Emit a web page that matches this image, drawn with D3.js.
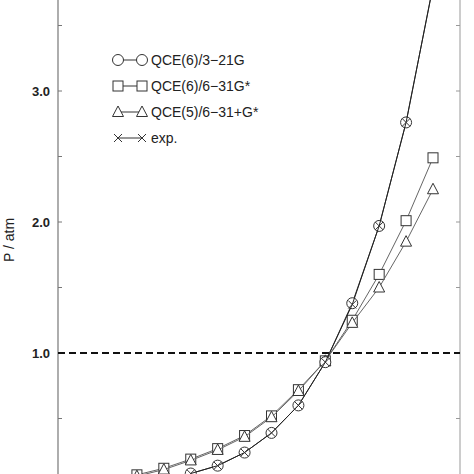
<!DOCTYPE html>
<html>
<head>
<meta charset="utf-8">
<script src="https://cdn.jsdelivr.net/npm/d3@7"></script>
<style>
body { margin: 0; background: #fff; }
text { font-family: "Liberation Sans", Arial, sans-serif; }
</style>
</head>
<body>
<div id="chart"></div>
<script>
// x index of each point (unlabelled in the figure)
const xIdx = [0, 1, 2, 3, 4, 5, 6, 7, 8, 9, 10, 11, 12];
const p321 = [null, null, null, 0.08, 0.14, 0.24, 0.39, 0.60, 0.93, 1.38, 1.97, 2.76, 3.80];
const p631 = [0.01, 0.07, 0.12, 0.19, 0.27, 0.37, 0.52, 0.72, 0.94, 1.25, 1.60, 2.01, 2.49];
const p631p = [0.0, 0.06, 0.11, 0.18, 0.26, 0.36, 0.51, 0.71, 0.94, 1.23, 1.50, 1.85, 2.25];
const pExp = [null, null, null, 0.08, 0.14, 0.24, 0.39, 0.60, 0.93, 1.37, 1.97, 2.76, 3.80];
const yTicks = [1.0, 2.0, 3.0];
const yMinor = [0.5, 1.5, 2.5, 3.5];
const legendLabels = ["QCE(6)/3\u221221G", "QCE(6)/6\u221231G*", "QCE(5)/6\u221231+G*", "exp."];

const W = 474, H = 474;
const left = 58, right = 460;

const svg = d3.select("#chart").append("svg")
    .attr("width", W).attr("height", H);

const x = d3.scaleLinear().domain([0, 12]).range([110, 433]);
const y = d3.scaleLinear().domain([0, 1]).range([484, 353]);

// frame
svg.append("line").attr("x1", left).attr("x2", left).attr("y1", 0).attr("y2", H)
    .attr("stroke", "#777").attr("stroke-width", 1.2);
svg.append("line").attr("x1", right).attr("x2", right).attr("y1", 0).attr("y2", H)
    .attr("stroke", "#999").attr("stroke-width", 1);

// y axis
const yAxis = d3.axisLeft(y).tickValues(yTicks).tickSize(0).tickFormat(d3.format(".1f")).tickPadding(8);
svg.append("g").attr("transform", `translate(${left},0)`).call(yAxis)
    .call(g => g.select(".domain").remove())
    .selectAll("text").style("font-size", "13px").style("font-weight", "bold").attr("fill", "#222");
[...yTicks, ...yMinor].forEach(v => {
    svg.append("line").attr("x1", left).attr("x2", left + 4).attr("y1", y(v)).attr("y2", y(v)).attr("stroke", "#777");
    svg.append("line").attr("x1", right - 4).attr("x2", right).attr("y1", y(v)).attr("y2", y(v)).attr("stroke", "#999");
});

svg.append("text").attr("transform", `translate(14,${240}) rotate(-90)`)
    .attr("text-anchor", "middle").style("font-size", "14px").attr("fill", "#222").text("P / atm");

// dashed reference at 1 atm
svg.append("line").attr("x1", left).attr("x2", right).attr("y1", y(1)).attr("y2", y(1))
    .attr("stroke", "#111").attr("stroke-width", 1.8).attr("stroke-dasharray", "7,4");

const line = d3.line().defined(d => d[1] != null).x(d => x(d[0])).y(d => y(d[1]));
const clip = svg.append("g");

function marker(g, type, cx, cy) {
    const s = g.append("g").attr("transform", `translate(${cx},${cy})`)
        .attr("fill", "#fff").attr("stroke", "#333").attr("stroke-width", 1);
    if (type === "circle") s.append("circle").attr("r", 5.5);
    if (type === "square") s.append("rect").attr("x", -5).attr("y", -5).attr("width", 10).attr("height", 10);
    if (type === "triangle") s.append("path").attr("d", "M0,-6L5.5,4.5L-5.5,4.5Z");
    if (type === "cross") s.append("path").attr("d", "M-4,-4L4,4M-4,4L4,-4").attr("fill", "none");
}

const series = [
    {v: p631, type: "square", stroke: "#666"},
    {v: p631p, type: "triangle", stroke: "#666"},
    {v: p321, type: "circle", stroke: "#333"},
    {v: pExp, type: "cross", stroke: "#222"}
];
series.forEach(s => {
    const pts = xIdx.map((i, k) => [i, s.v[k]]);
    clip.append("path").datum(pts).attr("d", line).attr("fill", "none")
        .attr("stroke", s.stroke).attr("stroke-width", 1);
    pts.filter(d => d[1] != null && y(d[1]) > -10).forEach(d => marker(clip, s.type, x(d[0]), y(d[1])));
});

// legend
const types = ["circle", "square", "triangle", "cross"];
legendLabels.forEach((lab, i) => {
    const ly = 60 + i * 26;
    svg.append("line").attr("x1", 118).attr("x2", 142).attr("y1", ly).attr("y2", ly).attr("stroke", "#333");
    marker(svg, types[i], 118, ly);
    marker(svg, types[i], 142, ly);
    svg.append("text").attr("x", 151).attr("y", ly + 5).style("font-size", "14px")
        .attr("fill", "#222").text(lab);
});
</script>
</body>
</html>
